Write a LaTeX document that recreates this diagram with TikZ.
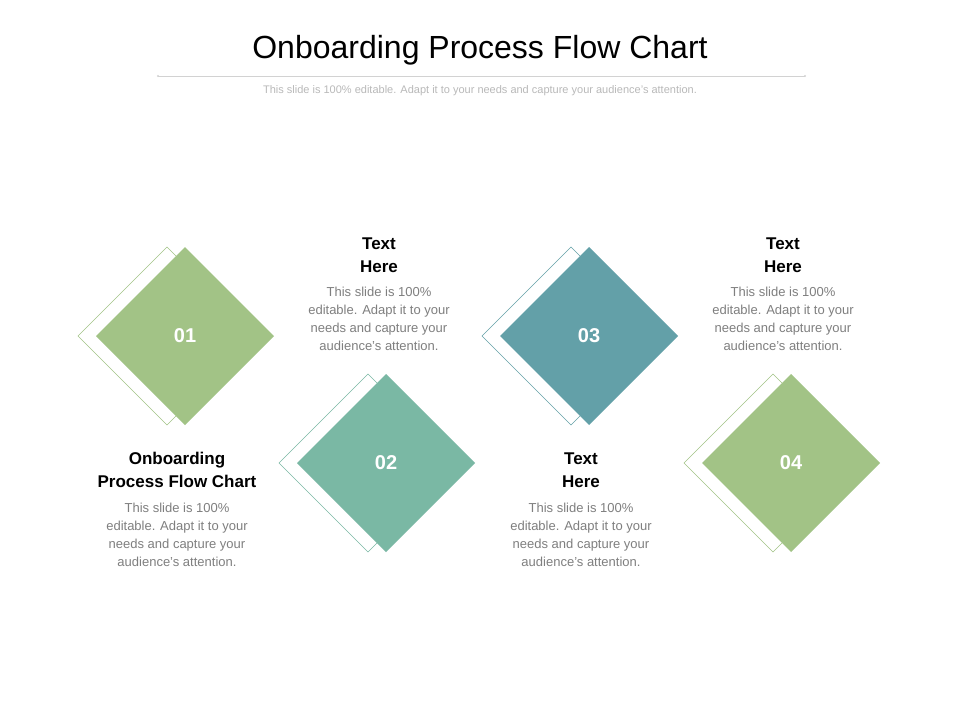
\documentclass[tikz,border=0pt]{standalone}
\usepackage{fontspec}
\setmainfont{Liberation Sans}
\definecolor{cgreen}{HTML}{A2C386}
\definecolor{cteal}{HTML}{7AB8A4}
\definecolor{cdteal}{HTML}{63A0A8}
\definecolor{bodyc}{HTML}{7F7F7F}
\begin{document}
\begin{tikzpicture}[x=1pt,y=-1pt,
  num/.style={text=white,font=\bfseries\fontsize{20}{24}\selectfont},
  head/.style={align=center,font=\bfseries\fontsize{17}{23}\selectfont},
  body/.style={align=center,text=bodyc,font=\fontsize{13}{18}\selectfont}]
\useasboundingbox[fill=white] (0,0) rectangle (960,720);
\node (title) at (480,50) {\fontsize{32}{38}\selectfont Onboarding Process Flow Chart};
\coordinate (la) at (158,76); \coordinate (lb) at (805,76);
\draw[gray!35] (la) -- (lb);
\fill[gray!35] (la) circle (1.2) (lb) circle (1.2);
\node[text=gray!55,font=\fontsize{11}{13}\selectfont] (sub) at (480,91) {This slide is 100\% editable. Adapt it to your needs and capture your audience's attention.};
\newcommand\dia[5]{% x y color num name
  \fill[#3] (#1,#2) +(0,-89) -- +(89,0) -- +(0,89) -- +(-89,0) -- cycle;
  \draw[#3,line width=0.6pt] (#1-18,#2) +(0,-89) -- +(89,0) -- +(0,89) -- +(-89,0) -- cycle;
  \node[num] (#5) at (#1,#2) {#4};}
\dia{185}{336}{cgreen}{01}{d1}
\dia{386}{463}{cteal}{02}{d2}
\dia{589}{336}{cdteal}{03}{d3}
\dia{791}{463}{cgreen}{04}{d4}
\node[head] (h2) at (379,255) {Text\\Here};
\node[body] (b2) at (379,319) {This slide is 100\%\\editable. Adapt it to your\\needs and capture your\\audience's attention.};
\node[head] (h4) at (783,255) {Text\\Here};
\node[body] (b4) at (783,319) {This slide is 100\%\\editable. Adapt it to your\\needs and capture your\\audience's attention.};
\node[head] (h1) at (177,470) {Onboarding\\Process Flow Chart};
\node[body] (b1) at (177,535) {This slide is 100\%\\editable. Adapt it to your\\needs and capture your\\audience's attention.};
\node[head] (h3) at (581,470) {Text\\Here};
\node[body] (b3) at (581,535) {This slide is 100\%\\editable. Adapt it to your\\needs and capture your\\audience's attention.};
\end{tikzpicture}
\end{document}
